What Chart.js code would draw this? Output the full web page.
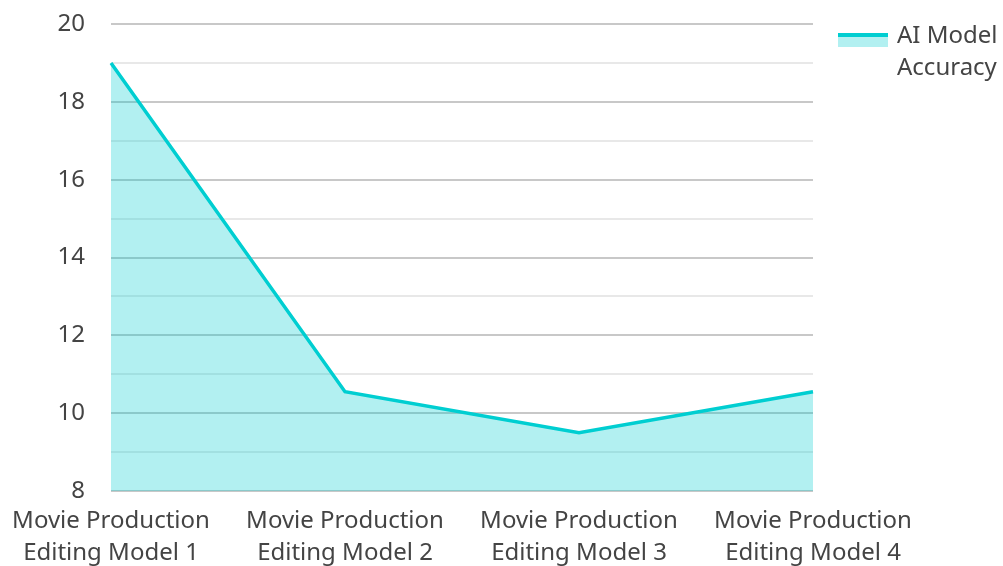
<!DOCTYPE html>
<html>
<head>
<meta charset="utf-8">
<script src="https://cdn.jsdelivr.net/npm/chart.js@4/dist/chart.umd.min.js"></script>
<style>
  html, body { margin: 0; padding: 0; background: #fff; }
  #wrap { width: 1003px; height: 566px; }
</style>
</head>
<body>
<div id="wrap"><canvas id="chart"></canvas></div>
<script>
const categories = [
    ['Movie Production', 'Editing Model 1'],
    ['Movie Production', 'Editing Model 2'],
    ['Movie Production', 'Editing Model 3'],
    ['Movie Production', 'Editing Model 4']
];
const accuracy = [19, 10.55, 9.5, 10.55];
const seriesName = ['AI Model', 'Accuracy'];
const yTicks = [8, 10, 12, 14, 16, 18, 20];

const LINE = 'rgb(0, 206, 209)';
const FILL = 'rgba(0, 206, 209, 0.3)';
const TEXT = '#444';
const FONT = '"Noto Sans", "Open Sans", sans-serif';

// --- custom legend drawn to the right of the plot ---
const sideLegend = {
    id: 'sideLegend',
    afterDraw(chart) {
        const ctx = chart.ctx;
        const x = chart.chartArea.right + 25;
        const y = 33;
        ctx.save();
        ctx.fillStyle = FILL;
        ctx.fillRect(x, y, 50, 14);
        ctx.fillStyle = LINE;
        ctx.fillRect(x, y, 50, 4);
        ctx.fillStyle = TEXT;
        ctx.font = '24px ' + FONT;
        ctx.textBaseline = 'middle';
        seriesName.forEach((t, i) => ctx.fillText(t, x + 59, 36 + i * 32));
        ctx.restore();
    }
};

new Chart(document.getElementById('chart'), {
    type: 'line',
    data: {
        labels: categories,
        datasets: [{
            label: seriesName.join(' '),
            data: accuracy,
            borderColor: LINE,
            backgroundColor: FILL,
            borderWidth: 3.5,
            fill: 'origin',
            pointRadius: 0,
            tension: 0
        }]
    },
    options: {
        responsive: true,
        maintainAspectRatio: false,
        animation: false,
        layout: { padding: { top: 24, right: 190, left: 0, bottom: 0 } },
        plugins: {
            legend: { display: false },
            tooltip: { enabled: false }
        },
        scales: {
            x: {
                offset: false,
                afterFit(scale) {
                    scale.height = 75;
                    scale.paddingLeft = 0;
                    scale.paddingRight = 0;
                },
                grid: { display: false, drawTicks: false },
                border: { display: false },
                ticks: {
                    color: TEXT,
                    font: { family: FONT, size: 24, lineHeight: 1.3 },
                    maxRotation: 0,
                    padding: 15
                }
            },
            y: {
                min: 8,
                max: 20,
                afterFit(scale) {
                    scale.width = 111;
                    scale.paddingTop = 0;
                    scale.paddingBottom = 0;
                },
                border: { display: false },
                grid: {
                    drawTicks: false,
                    lineWidth: 2,
                    color: c => (c.tick && c.tick.value % 2 === 0) ? '#c8c8c8' : '#e8e8e8'
                },
                ticks: {
                    stepSize: 1,
                    color: TEXT,
                    padding: 26,
                    font: { family: FONT, size: 24 },
                    callback: v => yTicks.includes(v) ? v : ''
                }
            }
        }
    },
    plugins: [sideLegend]
});
</script>
</body>
</html>
